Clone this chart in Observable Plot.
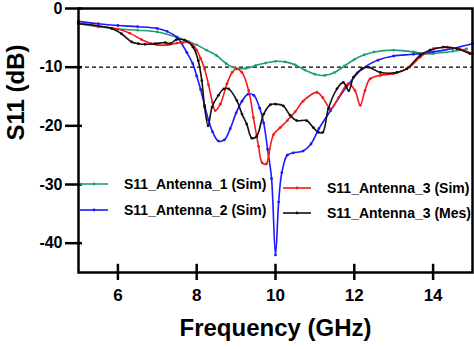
<!DOCTYPE html>
<html>
<head>
<meta charset="utf-8">
<script src="https://cdn.jsdelivr.net/npm/d3@7"></script>
<script src="https://cdn.jsdelivr.net/npm/@observablehq/plot@0.6"></script>
<style>
  body { margin: 0; background: #fff; }
  #wrap { position: relative; width: 474px; height: 349px; font-family: "Liberation Sans", Arial, sans-serif; }
  .leg { position: absolute; display: flex; align-items: center; font-weight: bold; font-size: 14px; white-space: nowrap; }
  .leg svg { margin-right: 16px; }
</style>
</head>
<body>
<div id="wrap"></div>
<script>
// Antenna 1 (Sim)
const a1Freq = [5.0, 5.5, 6.0, 6.5, 7.0, 7.5, 8.0, 8.25, 8.5, 8.75, 9.0, 9.25, 9.5, 9.75, 10.0, 10.25, 10.5, 10.75, 11.0, 11.25, 11.5, 11.75, 12.0, 12.25, 12.5, 13.0, 13.5, 13.75, 14.0, 14.5, 14.85];
const a1S11  = [-2.6, -3.1, -3.5, -3.7, -4.0, -4.9, -6.2, -7.1, -8.0, -9.4, -10.2, -10.2, -9.7, -9.3, -9.0, -9.1, -9.6, -10.5, -11.2, -11.4, -10.9, -9.8, -8.7, -7.9, -7.4, -7.1, -7.4, -7.7, -7.7, -7.3, -6.9];
// Antenna 2 (Sim)
const a2Freq = [5.0, 5.5, 6.0, 6.5, 7.0, 7.25, 7.5, 7.6, 7.75, 7.9, 8.0, 8.1, 8.2, 8.3, 8.4, 8.55, 8.7, 8.85, 9.0, 9.15, 9.3, 9.45, 9.6, 9.7, 9.8, 9.9, 10.0, 10.08, 10.16, 10.3, 10.45, 10.7, 10.9, 11.1, 11.4, 11.8, 12.2, 12.6, 13.0, 13.5, 14.0, 14.5, 15.0];
const a2S11  = [-2.2, -2.6, -2.9, -3.1, -3.4, -3.9, -4.9, -5.8, -7.5, -9.4, -11.5, -13.8, -16.5, -19.0, -21.0, -22.6, -22.4, -20.5, -17.8, -15.8, -14.6, -14.8, -17.0, -19.5, -24.0, -29.0, -42.0, -33.0, -28.0, -25.0, -24.6, -24.3, -23.1, -20.5, -17.4, -13.4, -10.3, -8.8, -8.1, -7.8, -7.4, -6.8, -6.0];
// Antenna 3 (Sim)
const a3sFreq = [5.0, 5.5, 6.0, 6.3, 6.6, 6.85, 7.0, 7.25, 7.5, 7.65, 7.8, 7.9, 8.0, 8.1, 8.2, 8.3, 8.4, 8.47, 8.6, 8.77, 8.9, 9.0, 9.15, 9.32, 9.44, 9.57, 9.66, 9.77, 9.83, 9.95, 10.12, 10.3, 10.5, 10.7, 11.05, 11.2, 11.4, 11.6, 11.85, 12.02, 12.15, 12.27, 12.4, 12.66, 13.0, 13.4, 13.67, 14.0, 14.35, 14.68, 15.0];
const a3sS11  = [-2.5, -3.0, -3.5, -4.2, -5.3, -6.0, -6.2, -6.2, -5.9, -5.8, -5.7, -6.2, -7.1, -8.5, -10.3, -13.0, -16.0, -17.4, -16.3, -12.8, -10.9, -10.3, -10.9, -14.0, -18.6, -23.5, -26.3, -26.5, -24.8, -21.5, -20.3, -19.1, -17.6, -15.8, -14.3, -15.2, -17.1, -15.2, -12.8, -14.0, -16.5, -14.0, -12.0, -11.4, -11.1, -10.0, -8.3, -6.85, -6.6, -6.9, -7.7];
// Antenna 3 (Mes)
const a3mFreq = [5.0, 5.84, 6.09, 6.35, 6.52, 6.69, 6.94, 7.2, 7.32, 7.49, 7.7, 7.91, 8.04, 8.13, 8.2, 8.29, 8.39, 8.55, 8.69, 8.81, 9.02, 9.15, 9.27, 9.4, 9.52, 9.7, 9.87, 10.0, 10.2, 10.37, 10.54, 10.79, 10.96, 11.09, 11.2, 11.34, 11.56, 11.72, 11.86, 11.98, 12.19, 12.36, 12.66, 13.08, 13.33, 13.67, 13.92, 14.26, 14.6, 14.94];
const a3mS11  = [-2.6, -3.4, -4.3, -5.7, -6.0, -6.1, -6.0, -5.8, -6.0, -5.3, -5.4, -6.6, -8.9, -12.3, -16.8, -20.0, -16.8, -14.8, -13.7, -13.7, -15.7, -18.0, -19.7, -22.1, -21.8, -18.0, -16.4, -16.3, -16.6, -18.2, -19.1, -19.1, -20.3, -21.1, -21.1, -17.1, -13.7, -12.6, -14.0, -11.7, -10.3, -10.0, -10.9, -10.9, -10.3, -8.0, -7.1, -6.6, -6.85, -7.7];

const xTicks = [6, 8, 10, 12, 14];
const yTicks = [0, -10, -20, -30, -40];
const threshold = [-10];

const seriesNames = ["S11_Antenna_1 (Sim)", "S11_Antenna_2 (Sim)", "S11_Antenna_3 (Sim)", "S11_Antenna_3 (Mes)"];
const seriesColors = ["#1f9e74", "#1a1aff", "#f21b1b", "#111111"];

const toRows = (fs, vs) => fs.map((f, i) => ({f, v: vs[i]}));
const series = [toRows(a1Freq, a1S11), toRows(a2Freq, a2S11), toRows(a3sFreq, a3sS11), toRows(a3mFreq, a3mS11)];

const lineMarks = [];
series.forEach((rows, i) => {
  lineMarks.push(Plot.line(rows, {x: "f", y: "v", stroke: seriesColors[i], strokeWidth: 1.6, curve: "catmull-rom"}));
  lineMarks.push(Plot.dot(rows, {x: "f", y: "v", fill: seriesColors[i], r: 1.4}));
});

const chart = Plot.plot({
  width: 474,
  height: 349,
  marginLeft: 78,
  marginRight: 2,
  marginTop: 8,
  marginBottom: 77,
  style: {fontFamily: "'Liberation Sans', Arial, sans-serif", fontWeight: "bold", background: "#fff", color: "#000", overflow: "visible"},
  x: {domain: [5, 15]},
  y: {domain: [-45, 0]},
  marks: [
    Plot.ruleY(threshold, {strokeDasharray: "4,3", strokeWidth: 1.3, stroke: "#000"}),
    ...lineMarks,
    Plot.axisY({ticks: yTicks, tickSize: 13, tickPadding: 3, fontSize: 16, strokeWidth: 2.5, label: null, tickFormat: d => String(d)}),
    Plot.ruleY(yTicks, {x1: 5, x2: 5.1, strokeWidth: 2.5, stroke: "#000"}),
    Plot.axisX({ticks: xTicks, tickSize: 8, tickPadding: 8, fontSize: 17, strokeWidth: 2.5, label: null, tickFormat: d => String(d)}),
    Plot.ruleX(xTicks, {y1: -45, y2: -43.6, strokeWidth: 2.5, stroke: "#000"}),
    Plot.frame({strokeWidth: 2.5, stroke: "#000"}),
    Plot.text(["Frequency (GHz)"], {frameAnchor: "bottom", dy: 63, fontSize: 24, fontWeight: "bold", fill: "#000"}),
    Plot.text(["S11 (dB)"], {frameAnchor: "left", dx: -62, rotate: -90, fontSize: 24, fontWeight: "bold", fill: "#000"})
  ]
});

const wrap = document.getElementById("wrap");
wrap.appendChild(chart);

// Legend (HTML overlay)
const legPos = [[80, 184], [80, 210], [283, 187.5], [283, 212.5]];
seriesNames.forEach((name, i) => {
  const d = document.createElement("div");
  d.className = "leg";
  d.style.left = legPos[i][0] + "px";
  d.style.top = (legPos[i][1] - 9) + "px";
  d.style.height = "18px";
  d.innerHTML = `<svg width="28" height="6"><line x1="0" y1="3" x2="28" y2="3" stroke="${seriesColors[i]}" stroke-width="1.6"/><circle cx="14" cy="3" r="1.4" fill="${seriesColors[i]}"/></svg><span>${name}</span>`;
  wrap.appendChild(d);
});
</script>
</body>
</html>
